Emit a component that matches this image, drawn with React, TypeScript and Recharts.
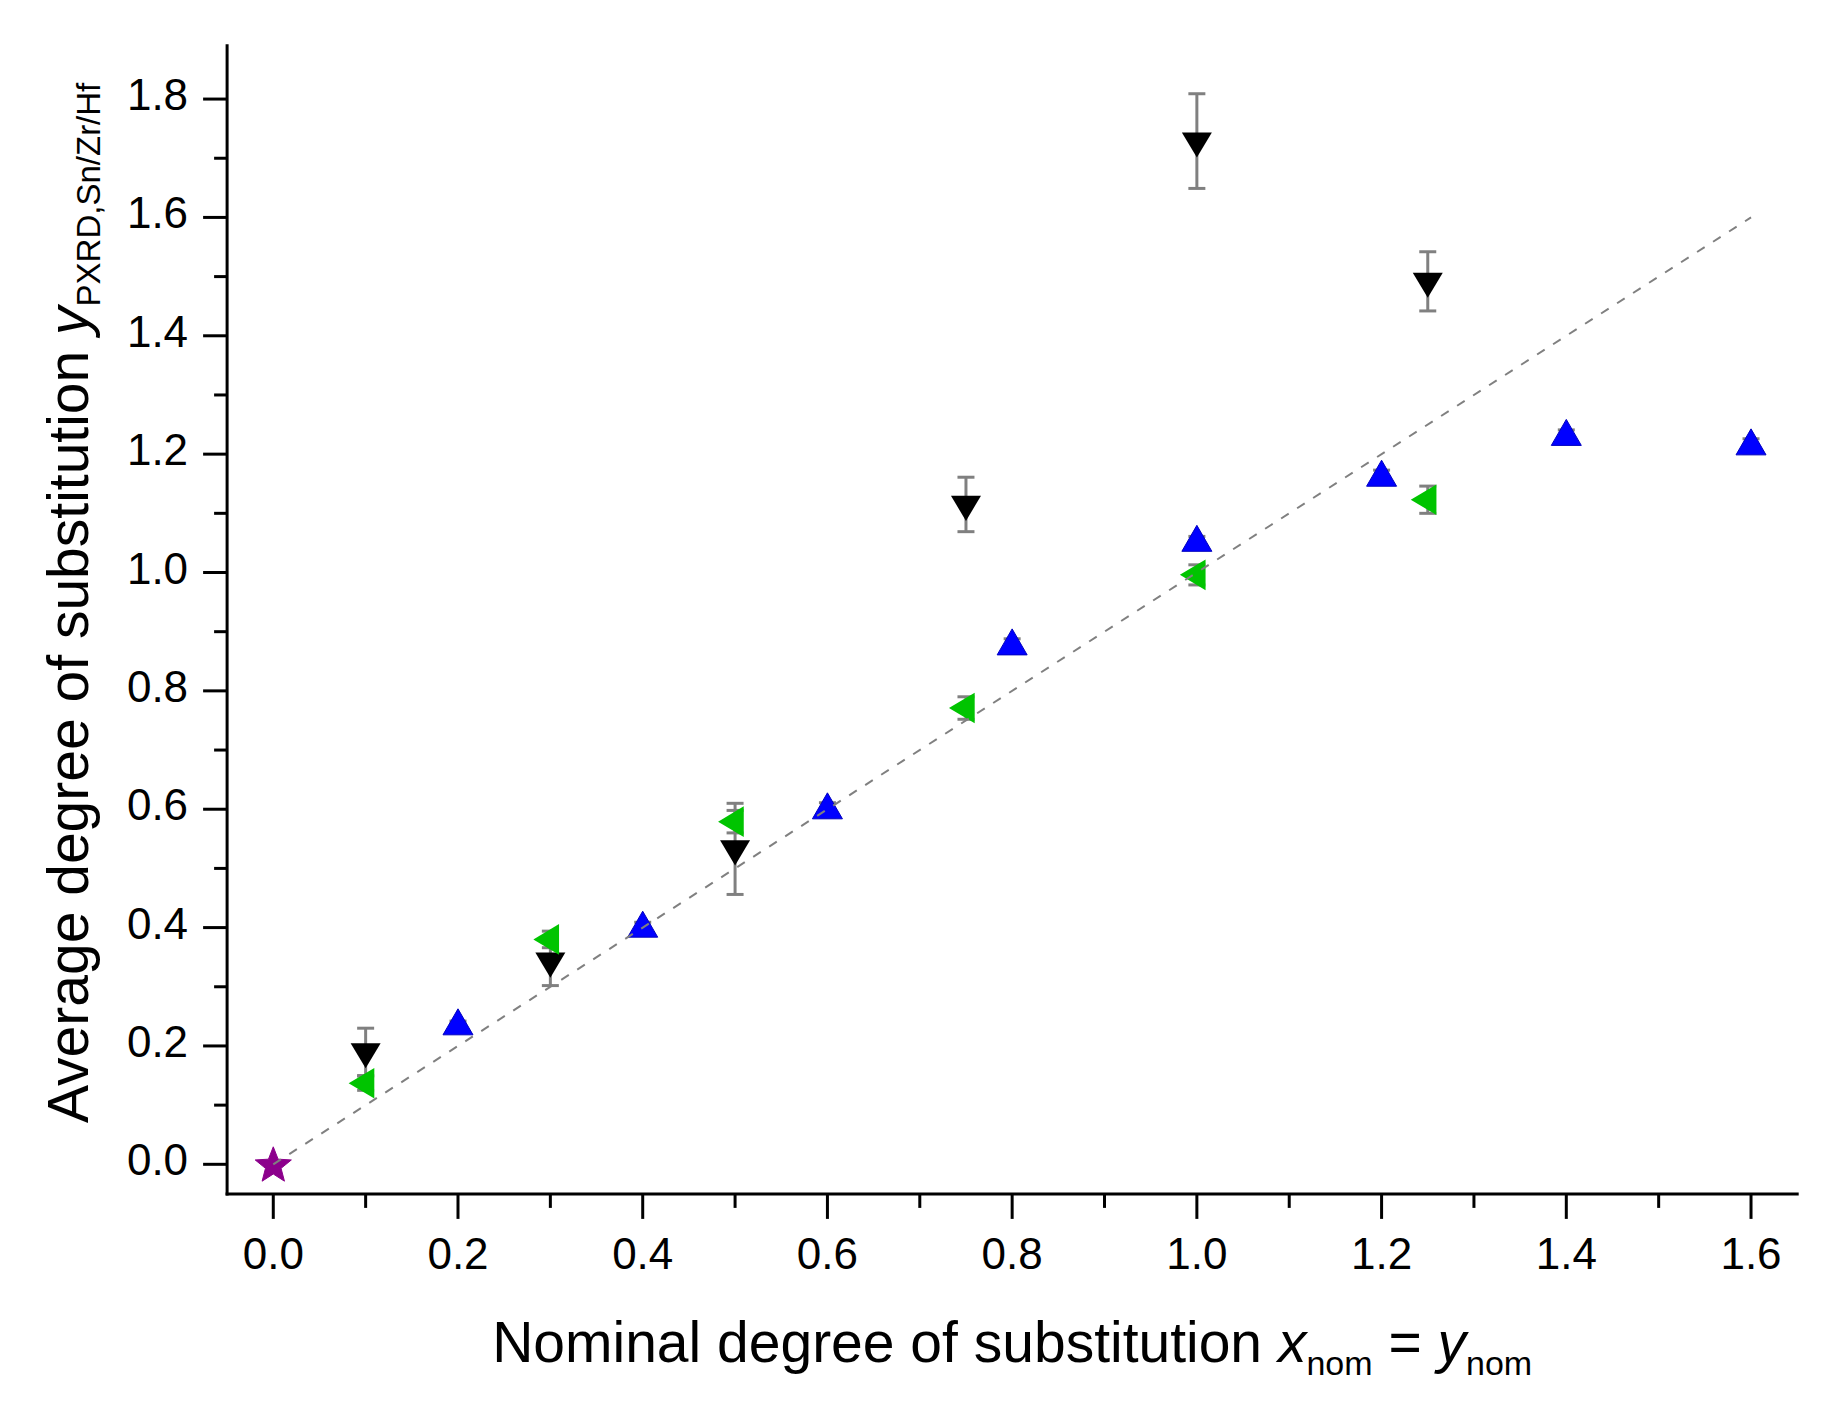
import React from 'react';
import { ScatterChart, Scatter, XAxis, YAxis, ErrorBar, Label } from 'recharts';

const FONT = '"Liberation Sans", Arial, Helvetica, sans-serif';

// Axis ticks
const xMajorTicks = [0, 0.2, 0.4, 0.6, 0.8, 1.0, 1.2, 1.4, 1.6];
const xMinorTicks = [0.1, 0.3, 0.5, 0.7, 0.9, 1.1, 1.3, 1.5];
const yMajorTicks = [0, 0.2, 0.4, 0.6, 0.8, 1.0, 1.2, 1.4, 1.6, 1.8];
const yMinorTicks = [0.1, 0.3, 0.5, 0.7, 0.9, 1.1, 1.3, 1.5, 1.7];

// Series: black down-triangles
const blackX = [0.1, 0.3, 0.5, 0.75, 1.0, 1.25];
const blackY = [0.19, 0.343, 0.533, 1.115, 1.729, 1.492];
const blackErr = [0.04, 0.041, 0.077, 0.046, 0.08, 0.05];

// Series: green left-triangles
const greenX = [0.1, 0.3, 0.5, 0.75, 1.0, 1.25];
const greenY = [0.137, 0.38, 0.579, 0.771, 0.996, 1.123];
const greenErr = [0.012, 0.014, 0.019, 0.019, 0.017, 0.023];

// Series: blue up-triangles
const blueX = [0.2, 0.4, 0.6, 0.8, 1.0, 1.2, 1.4, 1.6];
const blueY = [0.234, 0.399, 0.599, 0.876, 1.051, 1.161, 1.23, 1.214];
const blueErr = [0.008, 0.01, 0.012, 0.012, 0.01, 0.012, 0.011, 0.012];

// Unsubstituted reference point
const refX = [0];
const refY = [0];

// Ideal x = y line
const idealX = [0, 1.6];
const idealY = [0, 1.6];

const rows = (xs: number[], ys: number[], es?: number[]) =>
  xs.map((x, i) => ({ x, y: ys[i], err: es ? es[i] : 0 }));

const blackData = rows(blackX, blackY, blackErr);
const greenData = rows(greenX, greenY, greenErr);
const blueData = rows(blueX, blueY, blueErr);
const refData = rows(refX, refY);
const idealData = rows(idealX, idealY);

const xTicks = [...xMajorTicks, ...xMinorTicks].sort((a, b) => a - b);
const yTicks = [...yMajorTicks, ...yMinorTicks].sort((a, b) => a - b);

const DownTri = (p: any) => (
  <polygon
    points={`${p.cx - 15},${p.cy - 8.7} ${p.cx + 15},${p.cy - 8.7} ${p.cx},${p.cy + 16.5}`}
    fill="#000000"
  />
);

const UpTri = (p: any) => (
  <polygon
    points={`${p.cx},${p.cy - 17} ${p.cx - 15},${p.cy + 9} ${p.cx + 15},${p.cy + 9}`}
    fill="#0000FF"
    stroke="#0000C0"
    strokeWidth={1}
  />
);

const LeftTri = (p: any) => (
  <polygon
    points={`${p.cx - 17},${p.cy} ${p.cx + 8.7},${p.cy - 15.3} ${p.cx + 8.7},${p.cy + 15.3}`}
    fill="#00C400"
  />
);

const Star = (p: any) => {
  const R = 19;
  const r = 8.2;
  const pts: string[] = [];
  for (let i = 0; i < 10; i++) {
    const rad = i % 2 === 0 ? R : r;
    const a = -Math.PI / 2 + (i * Math.PI) / 5;
    pts.push(`${p.cx + rad * Math.cos(a)},${p.cy + 1.5 + rad * Math.sin(a)}`);
  }
  return <polygon points={pts.join(' ')} fill="#8C008C" stroke="#8C008C" strokeWidth={1} />;
};

const NoMark = () => <g />;

const XTick = (p: any) => {
  const { x, y, payload } = p;
  const major = xMajorTicks.includes(payload.value);
  return (
    <g>
      <line x1={x} y1={y} x2={x} y2={y + (major ? 25 : 14)} stroke="#000" strokeWidth={3} />
      {major && (
        <text x={x} y={y + 75} textAnchor="middle" fontFamily={FONT} fontSize={44} fill="#000">
          {payload.value.toFixed(1)}
        </text>
      )}
    </g>
  );
};

const YTick = (p: any) => {
  const { x, y, payload } = p;
  const major = yMajorTicks.includes(payload.value);
  return (
    <g>
      <line x1={x - (major ? 24 : 13)} y1={y} x2={x} y2={y} stroke="#000" strokeWidth={3} />
      {major && (
        <text x={x - 39} y={y + 11} textAnchor="end" fontFamily={FONT} fontSize={44} fill="#000">
          {payload.value.toFixed(1)}
        </text>
      )}
    </g>
  );
};

const XTitle = (p: any) => {
  const vb = p.viewBox || { x: 219, y: 1186, width: 1570, height: 204 };
  const cx = vb.x + vb.width / 2;
  const y = vb.y + 168;
  return (
    <text x={cx} y={y} textAnchor="middle" fontFamily={FONT} fontSize={57} fill="#000">
      Nominal degree of substitution <tspan fontStyle="italic">x</tspan>
      <tspan fontSize={34} dy={13}>nom</tspan>
      <tspan dy={-13}> = </tspan>
      <tspan fontStyle="italic">y</tspan>
      <tspan fontSize={34} dy={13}>nom</tspan>
    </text>
  );
};

const YTitle = (p: any) => {
  const vb = p.viewBox || { x: 0, y: 38, width: 219, height: 1148 };
  const x = vb.x + 80;
  const y = vb.y + 557;
  return (
    <text
      x={x}
      y={y}
      transform={`rotate(-90 ${x} ${y})`}
      textAnchor="middle"
      fontFamily={FONT}
      fontSize={57}
      fill="#000"
    >
      Average degree of substitution <tspan fontStyle="italic">y</tspan>
      <tspan fontSize={33} dy={12}>PXRD,Sn/Zr/Hf</tspan>
    </text>
  );
};

export default function App() {
  return (
    <div style={{ width: 1814, height: 1390, background: '#fff' }}>
      <ScatterChart
        width={1814}
        height={1390}
        margin={{ top: 37.8, right: 24.8, bottom: 0, left: 0 }}
      >
        <XAxis
          type="number"
          dataKey="x"
          domain={[-0.05, 1.65]}
          ticks={xTicks}
          interval={0}
          height={204.1}
          tickSize={0}
          tickMargin={0}
          tickLine={false}
          tick={<XTick />}
          axisLine={{ stroke: '#000', strokeWidth: 3, strokeLinecap: 'square' }}
          allowDataOverflow
        >
          <Label content={<XTitle />} />
        </XAxis>
        <YAxis
          type="number"
          dataKey="y"
          domain={[-0.05, 1.89]}
          ticks={yTicks}
          interval={0}
          width={219.1}
          tickSize={0}
          tickMargin={0}
          tickLine={false}
          tick={<YTick />}
          axisLine={{ stroke: '#000', strokeWidth: 3, strokeLinecap: 'square' }}
          allowDataOverflow
        >
          <Label content={<YTitle />} />
        </YAxis>

        <Scatter data={refData} shape={Star} isAnimationActive={false} />
        <Scatter data={blackData} shape={DownTri} isAnimationActive={false} />
        <Scatter data={greenData} shape={LeftTri} isAnimationActive={false} />
        <Scatter data={blueData} shape={UpTri} isAnimationActive={false} />

        <Scatter
          data={idealData}
          shape={NoMark}
          line={{ stroke: '#808080', strokeWidth: 2, strokeDasharray: '9 10' }}
          isAnimationActive={false}
        />

        <Scatter data={blackData} shape={NoMark} isAnimationActive={false}>
          <ErrorBar dataKey="err" direction="y" width={8.5} stroke="#808080" strokeWidth={3} />
        </Scatter>
        <Scatter data={greenData} shape={NoMark} isAnimationActive={false}>
          <ErrorBar dataKey="err" direction="y" width={8.5} stroke="#808080" strokeWidth={3} />
        </Scatter>
        <Scatter data={blueData} shape={NoMark} isAnimationActive={false}>
          <ErrorBar dataKey="err" direction="y" width={8.5} stroke="#808080" strokeWidth={3} />
        </Scatter>
      </ScatterChart>
    </div>
  );
}
